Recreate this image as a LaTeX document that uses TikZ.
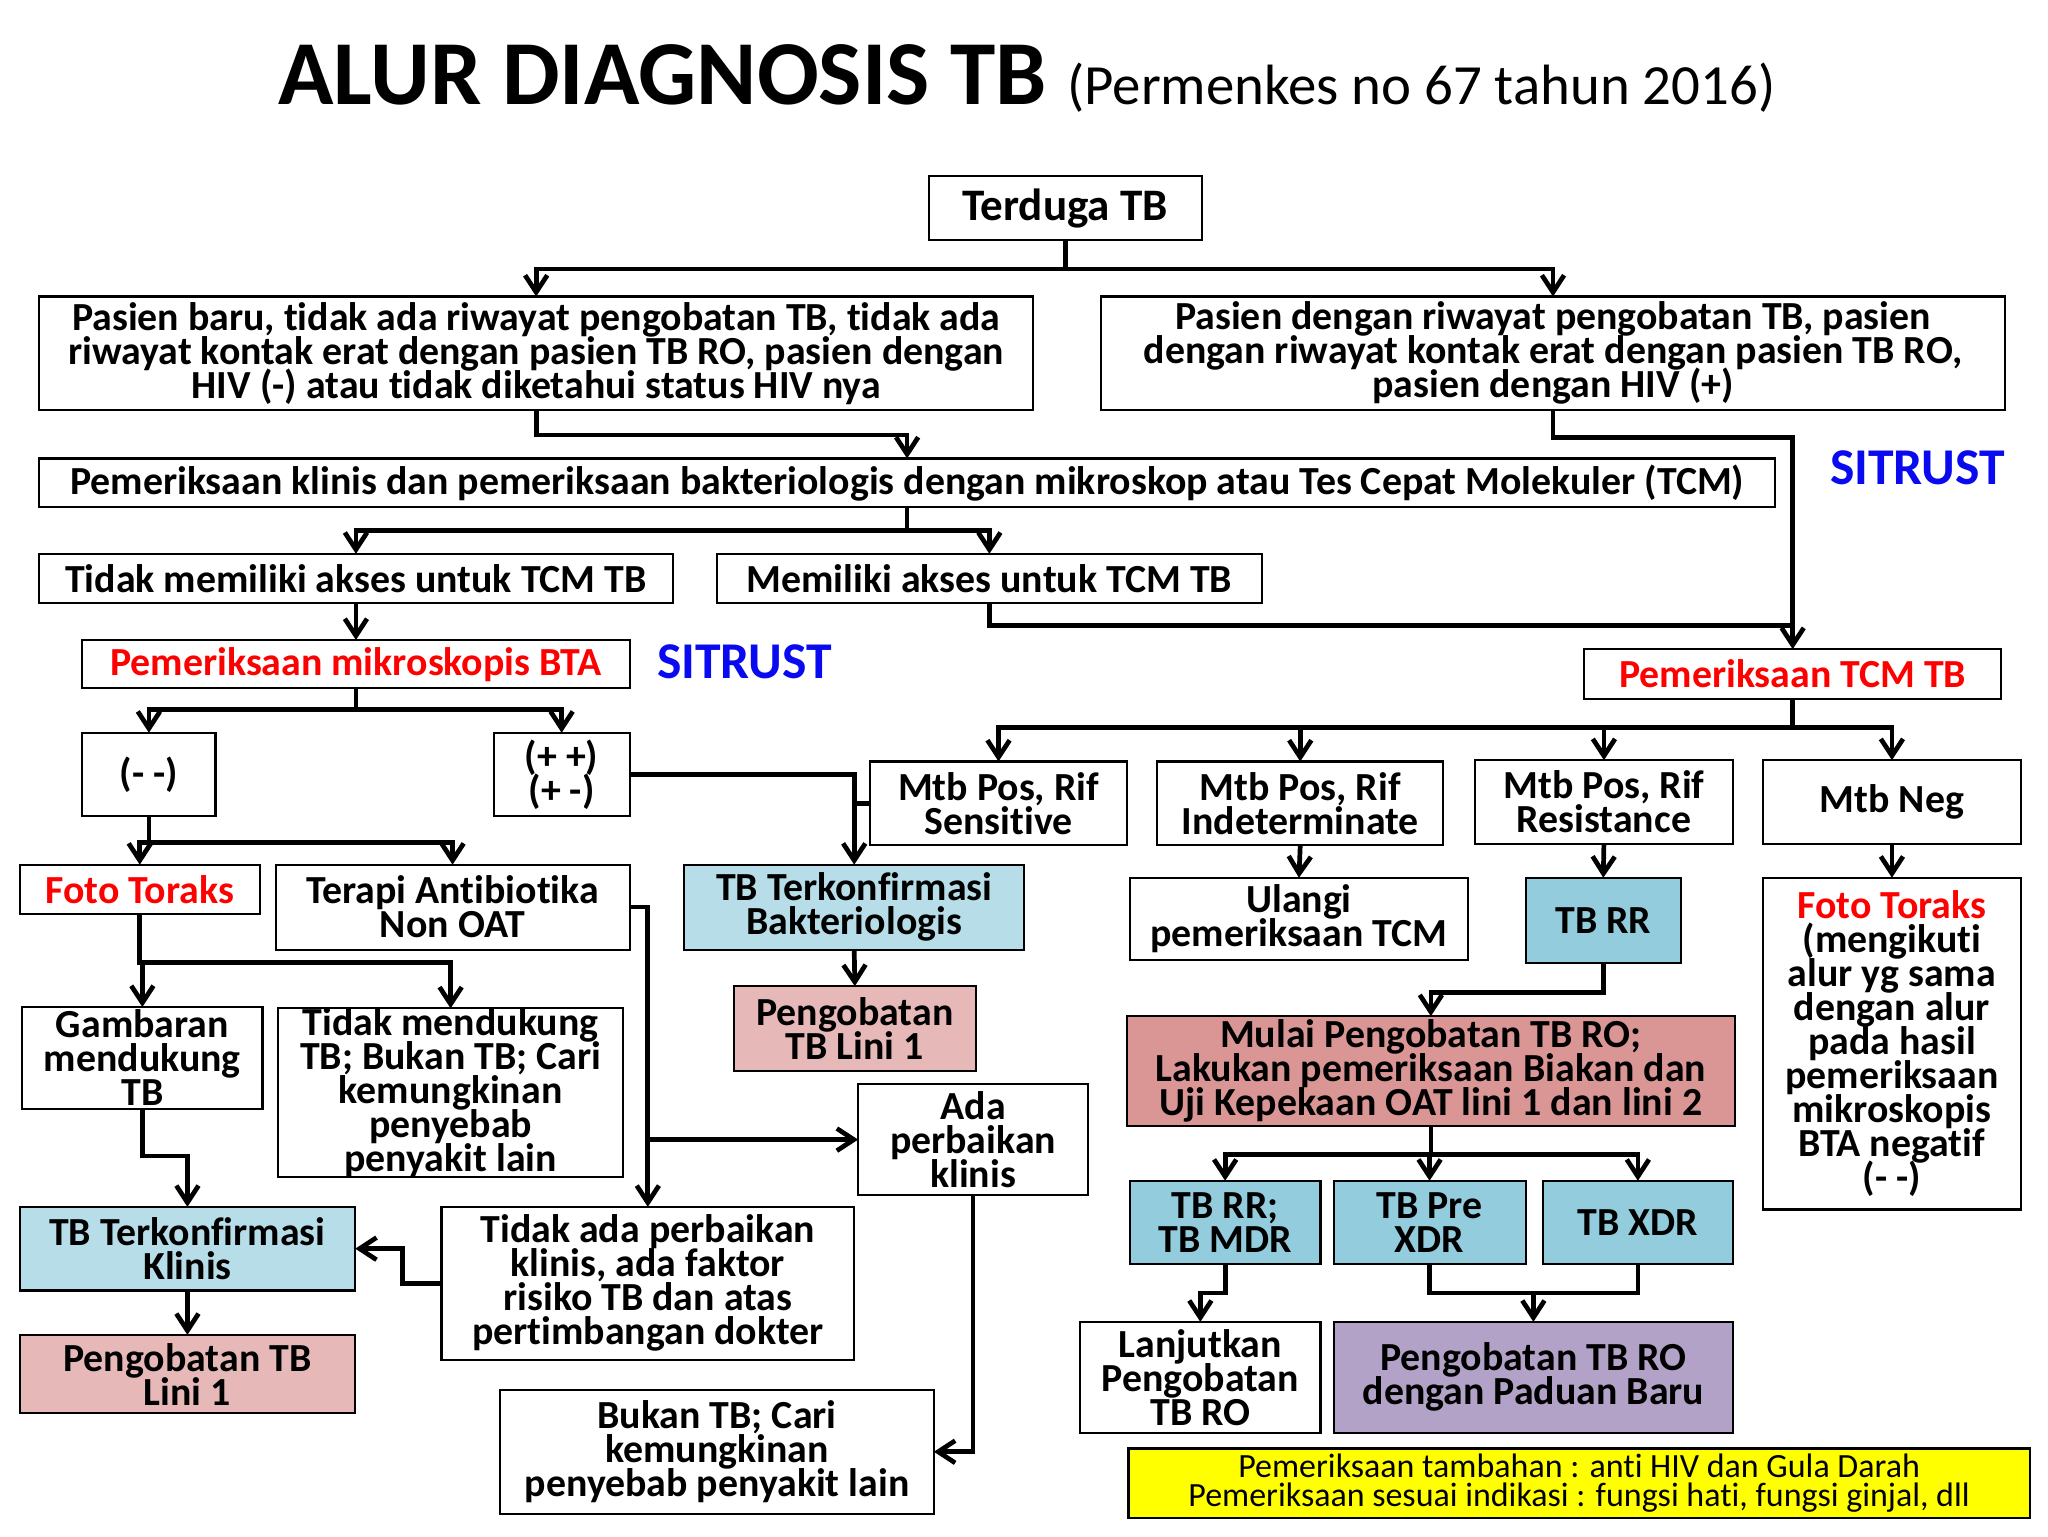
\documentclass[tikz,border=0pt]{standalone}
\usepackage{fontspec}
\setmainfont{Carlito}[Ligatures={NoCommon}]
\usetikzlibrary{arrows.meta,calc}
\definecolor{lblue}{HTML}{B7DEE8}
\definecolor{mblue}{HTML}{93CDDD}
\definecolor{lpink}{HTML}{E6B9B8}
\definecolor{dpink}{HTML}{D99694}
\definecolor{lpurple}{HTML}{B3A2C7}
\definecolor{sblue}{HTML}{0A0AF0}
\definecolor{tred}{HTML}{FF0000}
\definecolor{yell}{HTML}{FFFF00}
\newcommand\tightlines{\lineskiplimit=-60pt\relax\lineskip=0pt\relax}
\newcommand\mybox[8]{%
  \node[box,#2,minimum width={(#5-#3)*1pt},minimum height={(#6-#4)*1pt}] (#1) at ({(#3+#5)/2},{(#4+#6)/2}) {};
  \node[txt,#7] at (#1.center) {#8};}
\tikzset{
  box/.style={draw,line width=1.6pt,fill=white,inner sep=0pt,outer sep=0pt},
  txt/.style={inner sep=0pt,align=center,font=\bfseries\fontsize{30.5}{26}\selectfont\tightlines},
  conn/.style={line width=3.6pt},
  arr/.style={conn,-{Straight Barb[length=13pt,width=17pt]}},
  redt/.style={text=tred},
}
\begin{document}
\begin{tikzpicture}[x=1pt,y=-1pt]
\fill[white] (0,0) rectangle (1568,1176);
\useasboundingbox (0,0) rectangle (1568,1176);

\node[anchor=base west,inner sep=0pt] (title) at (213,80) {\fontsize{70}{70}\selectfont\bfseries ALUR DIAGNOSIS TB {\fontsize{43.5}{44}\selectfont\mdseries (Permenkes no 67 tahun 2016)}};

\mybox{td}{}{711}{135}{920}{184}{font=\bfseries\fontsize{34.5}{34}\selectfont}{Terduga TB}
\mybox{pb}{}{30}{227}{791}{314}{}{Pasien baru, tidak ada riwayat pengobatan TB, tidak ada\\riwayat kontak erat dengan pasien TB RO, pasien dengan\\HIV (-) atau tidak diketahui status HIV nya}
\mybox{pd}{}{843}{227}{1535}{314}{}{Pasien dengan riwayat pengobatan TB, pasien\\dengan riwayat kontak erat dengan pasien TB RO,\\pasien dengan HIV (+)}
\mybox{pk}{}{30}{351}{1359}{388}{}{Pemeriksaan klinis dan pemeriksaan bakteriologis dengan mikroskop atau Tes Cepat Molekuler (TCM)}
\mybox{tm}{}{30}{424}{515}{462}{}{Tidak memiliki akses untuk TCM TB}
\mybox{ma}{}{549}{424}{966}{462}{}{Memiliki akses untuk TCM TB}
\mybox{mk}{}{63}{490}{482}{527}{redt}{Pemeriksaan mikroskopis BTA}
\node[txt,text=sblue,font=\bfseries\fontsize{39.5}{39.5}\selectfont] (s1) at (570,507) {SITRUST};
\node[txt,text=sblue,font=\bfseries\fontsize{39.5}{39.5}\selectfont] (s2) at (1468,358) {SITRUST};
\mybox{tcm}{}{1213}{497}{1532}{535}{redt}{Pemeriksaan TCM TB}
\mybox{dm}{}{63}{561}{165}{625}{}{(- -)}
\mybox{pp}{}{378}{561}{482}{625}{}{(+ +)\\(+ -)}
\mybox{ms}{}{666}{583}{863}{647}{}{Mtb Pos, Rif\\Sensitive}
\mybox{mi}{}{886}{583}{1105}{647}{}{Mtb Pos, Rif\\Indeterminate}
\mybox{mr}{}{1129}{582}{1327}{646}{}{Mtb Pos, Rif\\Resistance}
\mybox{mn}{}{1350}{582}{1547}{646}{}{Mtb Neg}
\mybox{ft}{}{15}{662}{199}{700}{redt}{Foto Toraks}
\mybox{ta}{}{211}{662}{482}{727}{}{Terapi Antibiotika\\Non OAT}
\mybox{bak}{fill=lblue}{524}{662}{784}{727}{}{TB Terkonfirmasi\\Bakteriologis}
\mybox{ul}{}{865}{672}{1124}{735}{}{Ulangi\\pemeriksaan TCM}
\mybox{rr}{fill=mblue}{1168}{672}{1287}{737}{}{TB RR}
\mybox{fn}{}{1350}{672}{1547}{926}{}{{\color{tred}Foto Toraks}\\(mengikuti\\alur yg sama\\dengan alur\\pada hasil\\pemeriksaan\\mikroskopis\\BTA negatif\\(- -)}
\mybox{gm}{}{17}{771}{201}{849}{}{Gambaran\\mendukung\\TB}
\mybox{tdm}{}{213}{772}{477}{901}{}{Tidak mendukung\\TB; Bukan TB; Cari\\kemungkinan\\penyebab\\penyakit lain}
\mybox{pl1}{fill=lpink}{562}{755}{747}{820}{}{Pengobatan\\TB Lini 1}
\mybox{mu}{fill=dpink}{863}{778}{1328}{862}{}{Mulai Pengobatan TB RO;\\Lakukan pemeriksaan Biakan dan\\Uji Kepekaan OAT lini 1 dan lini 2}
\mybox{ap}{}{657}{830}{833}{915}{}{Ada\\perbaikan\\klinis}
\mybox{kl}{fill=lblue}{15}{924}{272}{988}{}{TB Terkonfirmasi\\Klinis}
\mybox{tap}{}{338}{924}{654}{1041}{}{Tidak ada perbaikan\\klinis, ada faktor\\risiko TB dan atas\\pertimbangan dokter}
\mybox{mdr}{fill=mblue}{865}{904}{1011}{968}{}{TB RR;\\TB MDR}
\mybox{pre}{fill=mblue}{1021}{904}{1168}{968}{}{TB Pre\\XDR}
\mybox{xdr}{fill=mblue}{1181}{904}{1327}{968}{}{TB XDR}
\mybox{pl2}{fill=lpink}{15}{1022}{272}{1082}{}{Pengobatan TB\\Lini 1}
\mybox{lj}{}{827}{1012}{1011}{1097}{}{Lanjutkan\\Pengobatan\\TB RO}
\mybox{pdb}{fill=lpurple}{1021}{1012}{1327}{1097}{}{Pengobatan TB RO\\dengan Paduan Baru}
\mybox{bk}{}{383}{1064}{715}{1159}{}{Bukan TB; Cari\\kemungkinan\\penyebab penyakit lain}
\mybox{yl}{fill=yell}{864}{1109}{1554}{1162}{font=\mdseries\fontsize{26}{22}\selectfont\tightlines}{Pemeriksaan tambahan : anti HIV dan Gula Darah\\Pemeriksaan sesuai indikasi : fungsi hati, fungsi ginjal, dll}

% connectors
\draw[arr] (td.south) -- ++(0,22) -| (pb.north);
\draw[arr] (td.south) -- ++(0,22) -| (pd.north);
\draw[arr] (pb.south) -- ++(0,19) -| (pk.north);
\draw[arr] (pd.south) -- ++(0,21) -| (tcm.north);
\draw[arr] (pk.south) -- ++(0,18) -| (tm.north);
\draw[arr] (pk.south) -- ++(0,18) -| (ma.north);
\draw[arr] (tm.south) -- (mk.north);
\draw[conn] (ma.south) -- ++(0,17) coordinate (c1) -- (c1 -| tcm.north);
\draw[arr] (mk.south) -- ++(0,16) -| (dm.north);
\draw[arr] (mk.south) -- ++(0,16) -| (pp.north);
\draw[arr] (pp.east) -| (bak.north);
\draw[conn] (ms.west) -- (ms.west -| bak.north);
\draw[arr] (tcm.south) -- ++(0,22) -| (ms.north);
\draw[arr] (tcm.south) -- ++(0,22) -| (mi.north);
\draw[arr] (tcm.south) -- ++(0,22) -| (mr.north);
\draw[arr] (tcm.south) -- ++(0,22) -| (mn.north);
\draw[arr] (dm.south) -- ++(0,20) -| (ft.north);
\draw[arr] (dm.south) -- ++(0,20) -| (ta.north);
\draw[arr] (ft.south) -- ++(0,37) -| (gm.north);
\draw[arr] (ft.south) -- ++(0,37) -| (tdm.north);
\draw[arr] (ta.east) -| (tap.north);
\draw[arr] (tap.north |- ap.west) -- (ap.west);
\draw[arr] (bak.south) -- (pl1.north);
\draw[arr] (gm.south) -- ++(0,36) -| (kl.north);
\draw[arr] (tap.west) -- ++(-30,0) |- (kl.east);
\draw[arr] (kl.south) -- (pl2.north);
\draw[arr] (ap.south) |- (bk.east);
\draw[arr] (mi.south) -- (ul.north);
\draw[arr] (mr.south) -- (rr.north);
\draw[arr] (mn.south) -- (fn.north);
\draw[arr] (rr.south) -- ++(0,23) -| (mu.north);
\draw[arr] (mu.south) -- ++(0,22) -| (mdr.north);
\draw[arr] (mu.south) -- ++(0,22) -| (pre.north);
\draw[arr] (mu.south) -- ++(0,22) -| (xdr.north);
\draw[arr] (mdr.south) -- ++(0,22) -| (lj.north);
\draw[conn] (pre.south) -- ++(0,22) coordinate (c2) -| (xdr.south);
\draw[arr] (c2 -| pdb.north) -- (pdb.north);
\end{tikzpicture}
\end{document}
